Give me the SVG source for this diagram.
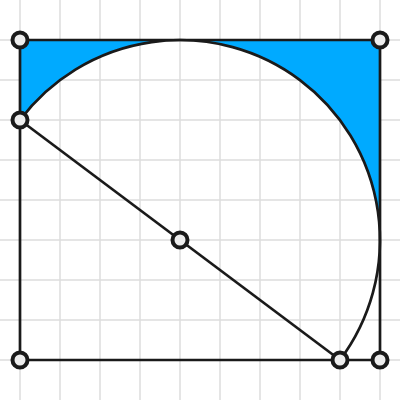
<svg xmlns="http://www.w3.org/2000/svg" width="400" height="400" viewBox="0 0 400 400">
<defs>
<style>
.grid{stroke:#dddddd;stroke-width:1.5;fill:none}
.edge{stroke:#1a1a1a;stroke-width:2.7;fill:none;stroke-linejoin:round}
.pt{fill:#eeeeee;stroke:#1a1a1a;stroke-width:4}
</style>
</defs>
<rect width="400" height="400" fill="#ffffff"/>
<g id="grid" class="grid">
<path d="M20,0V400M60,0V400M100,0V400M140,0V400M180,0V400M220,0V400M260,0V400M300,0V400M340,0V400M380,0V400"/>
<path d="M0,40H400M0,80H400M0,120H400M0,160H400M0,200H400M0,240H400M0,280H400M0,320H400M0,360H400"/>
</g>
<g id="shaded">
<path d="M20,40 L380,40 L380,240 A200,200 0 0 0 20,120 Z" fill="#00aaff" stroke="none"/>
</g>
<g id="connectors" class="edge">
<path d="M20,40 L380,40 L380,360 L20,360 Z"/>
<path d="M20,120 A200,200 0 0 1 340,360"/>
<path d="M20,120 L340,360"/>
</g>
<g id="points">
<circle id="p1" class="pt" cx="20" cy="40" r="7.5"/>
<circle id="p2" class="pt" cx="380" cy="40" r="7.5"/>
<circle id="p3" class="pt" cx="20" cy="120" r="7.5"/>
<circle id="p4" class="pt" cx="180" cy="240" r="7.5"/>
<circle id="p5" class="pt" cx="20" cy="360" r="7.5"/>
<circle id="p6" class="pt" cx="340" cy="360" r="7.5"/>
<circle id="p7" class="pt" cx="380" cy="360" r="7.5"/>
</g>
</svg>
